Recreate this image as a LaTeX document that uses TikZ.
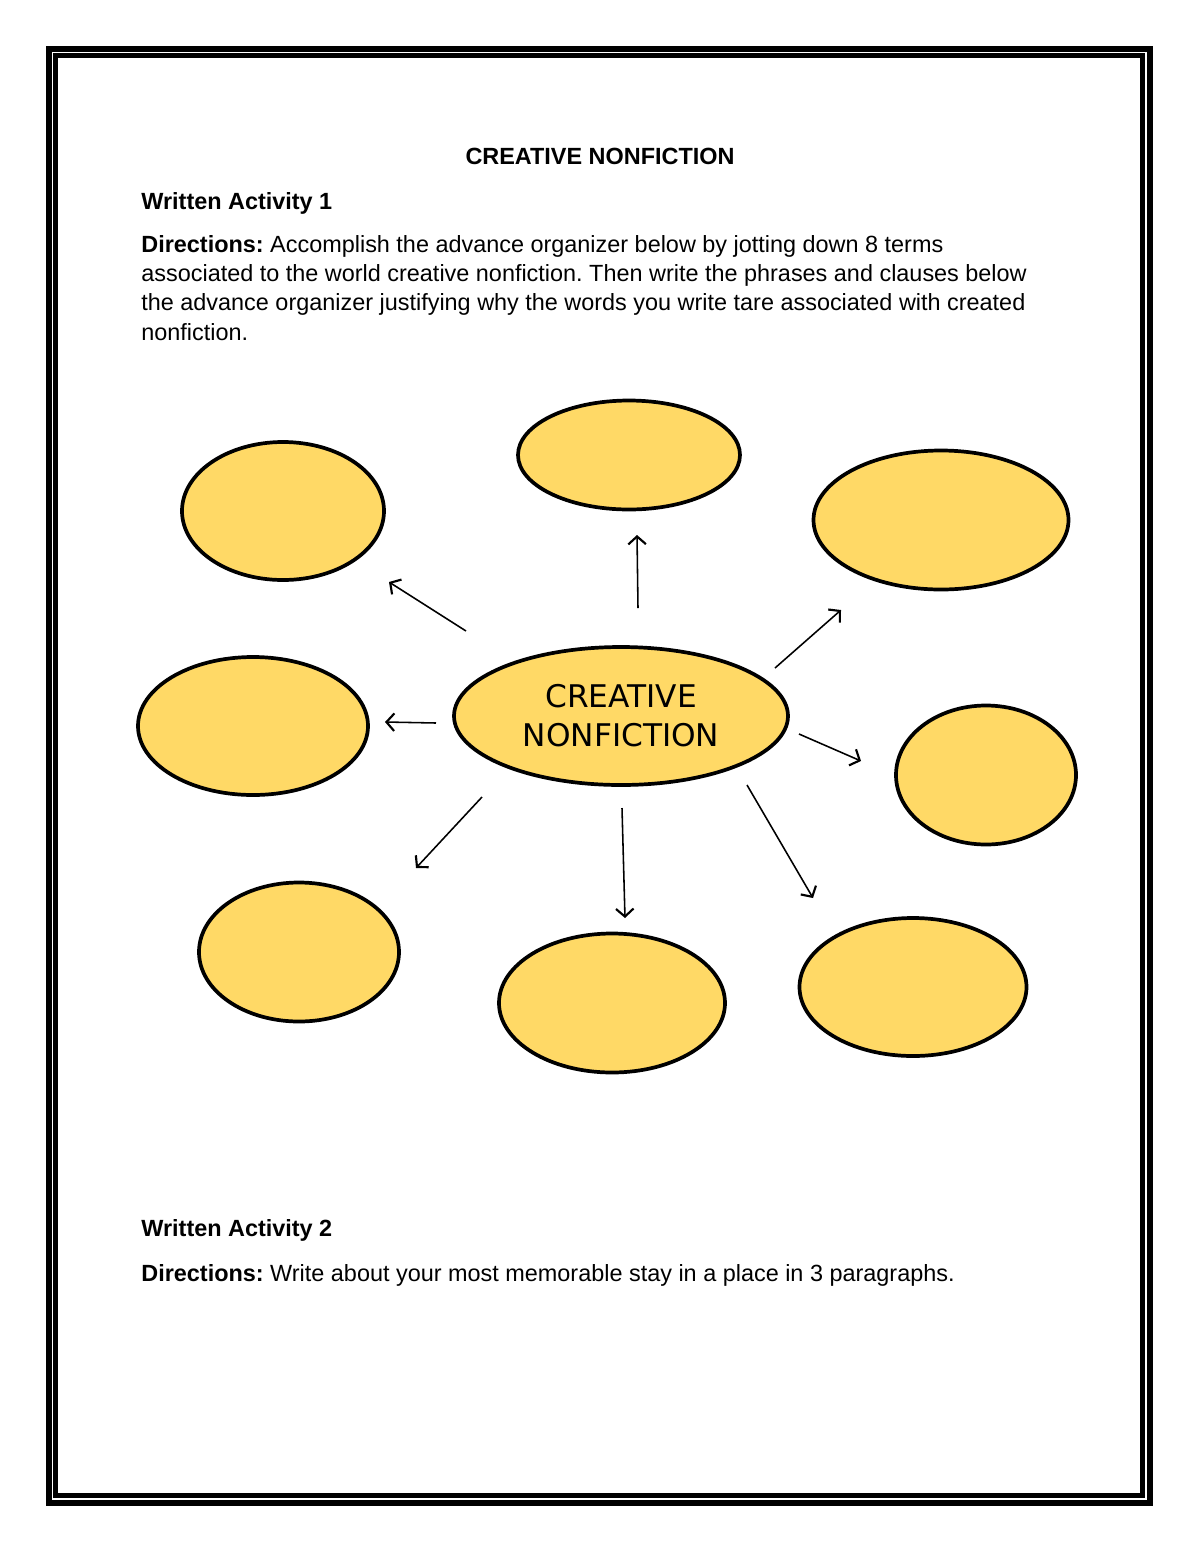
\documentclass[tikz,border=0pt]{standalone}
\usepackage{fontspec}
\setmainfont{Liberation Sans}
\newfontfamily\hubfont{DejaVu Sans}
\frenchspacing
\usetikzlibrary{shapes.geometric}
\usetikzlibrary{arrows.meta}
\tikzset{>={Straight Barb[length=4pt,width=9pt,line width=1.1pt]}}
\definecolor{y1}{HTML}{FFD966}
\newcommand\px{0.018cm}
\tikzstyle{blob}=[ellipse,draw,fill=y1,line width=1.9pt,inner sep=0pt]
\tikzstyle{txt}=[anchor=base west,inner sep=0pt,align=left,font=\fontsize{12}{15}\selectfont]
\tikzstyle{head}=[txt,font=\bfseries\fontsize{12}{15}\selectfont]

\begin{document}
\begin{tikzpicture}[x=\px,y=-\px]
  \useasboundingbox (0,0) rectangle (1200,1553);
  % page border
  \draw[line width=3.1pt] (49,49) rectangle (1150,1503);
  \draw[line width=2.6pt] (55.5,55.5) rectangle (1142.5,1495.5);

  \node[head,anchor=base] (title) at (600,164) {CREATIVE NONFICTION};
  \node[head] (wa1) at (141,209) {Written Activity 1};
  % base of a multi-line node sits on its last line
  \node[txt] (dir1) at (141,340) {\textbf{Directions:} Accomplish the advance organizer below by jotting down 8 terms\\
    associated to the world creative nonfiction. Then write the phrases and clauses below\\
    the advance organizer justifying why the words you write tare associated with created\\
    nonfiction.};

  % organizer
  \node[blob,minimum width=334*\px,minimum height=138*\px,align=center,
        font=\hubfont\fontsize{16}{20}\selectfont] (hub) at (621,716) {CREATIVE\\NONFICTION};
  \foreach \n/\cx/\cy/\w/\h in {e1/283/511/202/138, e2/629/455/222/109,
      e3/941/520/255/139, e4/253/726/230/138, e5/986/775/180/139,
      e6/299/952/200/139, e7/612/1003/226/139, e8/913/987/227/138}
    \node[blob,minimum width=\w*\px,minimum height=\h*\px] (\n) at (\cx,\cy) {};
  \foreach \i/\a/\b/\c/\d in {1/638/608/637/535, 2/466/631/389/582,
      3/775/668/841/610, 4/436/723/385/722, 5/799/734/861/761,
      6/482/797/416/868, 7/622/808/625/918, 8/747/785/813/898}{
    \coordinate (s\i) at (\a,\b);
    \coordinate (t\i) at (\c,\d);
    \draw[->,line width=0.8pt] (s\i) -- (t\i);
  }

  \node[head] (wa2) at (141,1236) {Written Activity 2};
  \node[txt] (dir2) at (141,1281) {\textbf{Directions:} Write about your most memorable stay in a place in 3 paragraphs.};
\end{tikzpicture}
\end{document}
